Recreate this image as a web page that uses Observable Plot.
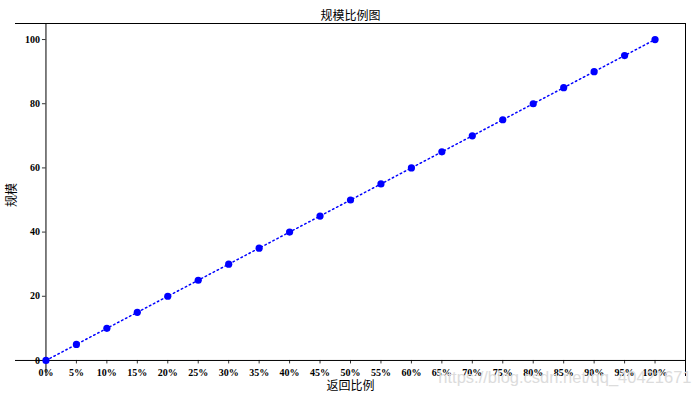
<!DOCTYPE html>
<html>
<head>
<meta charset="utf-8">
<script src="https://cdn.jsdelivr.net/npm/d3@7"></script>
<script src="https://cdn.jsdelivr.net/npm/@observablehq/plot@0.6"></script>
<style>
  body { margin: 0; background: #fff; }
  #wrap { position: relative; width: 695px; height: 399px; }
</style>
</head>
<body>
<div id="wrap"></div>
<script>
const ratio = [0, 0.05, 0.10, 0.15, 0.20, 0.25, 0.30, 0.35, 0.40, 0.45, 0.50, 0.55, 0.60, 0.65, 0.70, 0.75, 0.80, 0.85, 0.90, 0.95, 1.00];
const scale = [0, 5, 10, 15, 20, 25, 30, 35, 40, 45, 50, 55, 60, 65, 70, 75, 80, 85, 90, 95, 100];
const xTicks = [0, 0.05, 0.10, 0.15, 0.20, 0.25, 0.30, 0.35, 0.40, 0.45, 0.50, 0.55, 0.60, 0.65, 0.70, 0.75, 0.80, 0.85, 0.90, 0.95, 1.00];
const xTickLabels = ["0%", "5%", "10%", "15%", "20%", "25%", "30%", "35%", "40%", "45%", "50%", "55%", "60%", "65%", "70%", "75%", "80%", "85%", "90%", "95%", "100%"];
const yTicks = [0, 20, 40, 60, 80, 100];
const yTickLabels = ["0", "20", "40", "60", "80", "100"];
const title = "规模比例图";
const xLabel = "返回比例";
const yLabel = "规模";
const watermark = "https://blog.csdn.net/qq_40421671";

const data = ratio.map((r, i) => ({ratio: r, scale: scale[i]}));
const tickFont = "'Liberation Serif', 'Times New Roman', serif";
const cjk = "'Noto Sans CJK SC', sans-serif";

const chart = Plot.plot({
  width: 695,
  height: 399,
  marginLeft: 15,
  marginRight: 10,
  marginTop: 23,
  marginBottom: 23,
  style: {background: "#fff", overflow: "visible"},
  x: {domain: [-0.05, 1.05], axis: null},
  y: {domain: [-5, 105], axis: null},
  marks: [
    Plot.ruleY([105], {stroke: "#000", strokeWidth: 1}),
    Plot.ruleX([1.05], {y1: -5, y2: 105, stroke: "#000", strokeWidth: 1}),
    Plot.ruleY([0], {stroke: "#000", strokeWidth: 1}),
    Plot.ruleX([0], {y1: -5, y2: 105, stroke: "#000", strokeWidth: 1}),
    Plot.ruleX(xTicks, {x: d => d, y1: 0, y2: -1.09, stroke: "#000", strokeWidth: 0.8}),
    Plot.text(xTicks, {x: d => d, y: 0, text: (d, i) => xTickLabels[i], dy: 12, fontFamily: tickFont, fontWeight: "bold", fontSize: 10, fill: "#000"}),
    Plot.ruleY(yTicks, {y: d => d, x1: 0, x2: -0.00575, stroke: "#000", strokeWidth: 0.8}),
    Plot.text(yTicks, {x: 0, y: d => d, text: (d, i) => yTickLabels[i], dx: -6, textAnchor: "end", fontFamily: tickFont, fontWeight: "bold", fontSize: 10, fill: "#000"}),
    Plot.line(data, {x: "ratio", y: "scale", stroke: "#0000ff", strokeWidth: 1.5, strokeDasharray: "1.5,3"}),
    Plot.dot(data, {x: "ratio", y: "scale", r: 3.6, fill: "#0000ff", stroke: "none"}),
    Plot.text([title], {frameAnchor: "top", dy: -12, text: d => d, fontFamily: cjk, fontSize: 12, fill: "#000"}),
    Plot.text([xLabel], {frameAnchor: "bottom", dy: 13, text: d => d, fontFamily: cjk, fontSize: 12, fill: "#000"}),
    Plot.text([yLabel], {frameAnchor: "left", dx: -3, dy: 7, rotate: -90, text: d => d, fontFamily: cjk, fontSize: 12, fill: "#000"}),
    Plot.text([watermark], {frameAnchor: "bottom-right", dx: 6, dy: 6, textAnchor: "end", text: d => d, fontFamily: "'Liberation Sans', Arial, sans-serif", fontSize: 16.5, fill: "#dcdcdc"})
  ]
});
document.getElementById("wrap").appendChild(chart);
</script>
</body>
</html>
